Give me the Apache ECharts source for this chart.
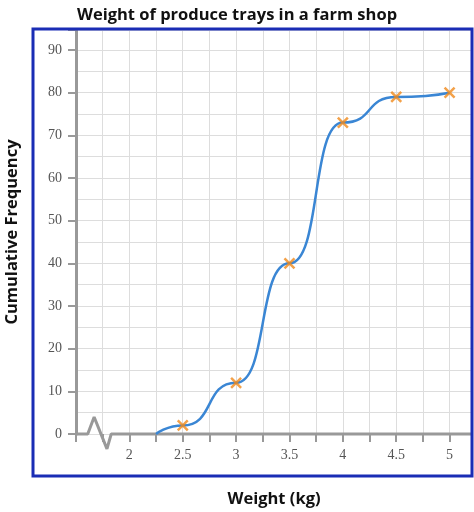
<!DOCTYPE html><html><head><meta charset="utf-8"><script src="https://cdn.jsdelivr.net/npm/echarts@6/dist/echarts.min.js"></script>
<style>html,body{margin:0;padding:0;background:#fff}#c{width:474px;height:512px}</style></head><body><div id="c"></div><script>
const curveX=[2.25,2.5,3,3.5,4,4.5,5];
const curveY=[0,2,12,40,73,79,80];
const pointX=[2.5,3,3.5,4,4.5,5];
const pointY=[2,12,40,73,79,80];
const breakShape=[[1.5,0],[1.61,0],[1.67,4],[1.79,-3.5],[1.83,0],[5.21,0]];
const xLabels=[2,2.5,3,3.5,4,4.5,5];
const yLabels=[0,10,20,30,40,50,60,70,80,90];
const cross='path://M0,0L10,10M10,0L0,10';
const ch=echarts.init(document.getElementById('c'));
const gray='#999';
ch.setOption({
 animation:false,
 title:{text:'Weight of produce trays in a farm shop',left:'center',top:2,textStyle:{fontSize:16.5,fontWeight:'bold',color:'#111',fontFamily:'Open Sans'}},
 grid:{left:76,right:2,top:30,bottom:78,outerBoundsMode:'none',containLabel:false},
 xAxis:{type:'value',min:1.5,max:5.21,interval:0.5,
  axisLine:{show:false},
  axisTick:{show:true,length:8,lineStyle:{color:gray,width:2}},
  minorTick:{show:true,splitNumber:2,length:8,lineStyle:{color:gray,width:2}},
  splitLine:{lineStyle:{color:'#ddd'}},minorSplitLine:{show:true,lineStyle:{color:'#ddd'}},
  axisLabel:{margin:14,color:'#555',fontFamily:'Liberation Serif',fontSize:14,formatter:v=>xLabels.includes(v)?String(v):''},
  name:'Weight (kg)',nameLocation:'middle',nameGap:57,nameTextStyle:{fontSize:16.5,fontWeight:'bold',color:'#111',fontFamily:'Open Sans'}},
 yAxis:{type:'value',min:0,max:94.7,interval:10,
  axisLine:{show:true,lineStyle:{color:gray,width:3}},
  axisTick:{show:true,length:8,lineStyle:{color:gray,width:2}},
  splitLine:{lineStyle:{color:'#ddd'}},minorSplitLine:{show:true,lineStyle:{color:'#ddd'}},
  minorTick:{show:false,splitNumber:2},
  axisLabel:{margin:14,color:'#555',fontFamily:'Liberation Serif',fontSize:14,formatter:v=>yLabels.includes(v)?String(v):''},
  name:'Cumulative Frequency',nameLocation:'middle',nameGap:55,nameTextStyle:{fontSize:16.5,fontWeight:'bold',color:'#111',fontFamily:'Open Sans'}},
 graphic:[{type:'rect',shape:{x:33,y:29,width:439,height:447},style:{fill:null,stroke:'#1a2db5',lineWidth:3},z:100}],
 series:[
  {type:'line',data:breakShape,showSymbol:false,clip:false,lineStyle:{color:gray,width:3},z:3},
  {type:'line',data:curveX.map((x,i)=>[x,curveY[i]]),smooth:0.6,smoothMonotone:'x',showSymbol:false,lineStyle:{color:'#3a86d4',width:2.5},z:4},
  {type:'scatter',data:pointX.map((x,i)=>[x,pointY[i]]),symbol:cross,symbolSize:10,itemStyle:{color:'none',borderColor:'#f08a1c',borderWidth:2.5},z:5}
 ]
});
</script></body></html>
